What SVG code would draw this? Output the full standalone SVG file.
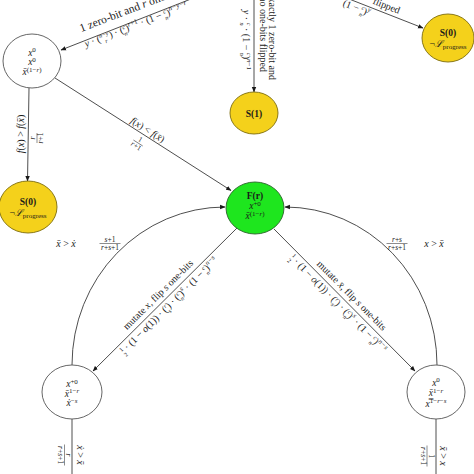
<svg xmlns="http://www.w3.org/2000/svg" width="474" height="474" viewBox="0 0 474 474">
<defs>
<marker id="ah" viewBox="0 0 10 10" refX="9" refY="5" markerWidth="5.5" markerHeight="5.5" markerUnits="userSpaceOnUse" orient="auto"><path d="M0,1 L10,5 L0,9 z" fill="#1a1a1a"/></marker>
<style>
text{font-family:"Liberation Serif","DejaVu Serif",serif;fill:#1a1a1a}
.n{font-size:9.5px}
.l{font-size:10px}
.lb{font-size:11.5px}
.fr{font-size:7.5px}
.i{font-style:italic}
.b{font-weight:bold}
.sp{font-size:7px}
.sf{font-size:6px}
.sb{font-size:7px}
.wh{fill:#fff;stroke:#555;stroke-width:0.9}
.ye{fill:#f4d11b;stroke:#7d6c0c;stroke-width:0.9}
.gr{fill:#1ee61e;stroke:#2d632d;stroke-width:0.9}
.e{fill:none;stroke:#3a3a3a;stroke-width:0.9}
.ea{marker-end:url(#ah)}
.bar{stroke:#1a1a1a;stroke-width:0.5}
</style>
</defs>
<rect width="474" height="474" fill="#fff"/>
<g id="connectors">
<path class="e ea" d="M196,-3 L61,50"/>
<path class="e ea" d="M29,88 L27.5,181"/>
<path class="e ea" d="M55,78 L231,190.5"/>
<path class="e ea" d="M254,-3 L254,92"/>
<path class="e ea" d="M344,-3 L423,28"/>
<path class="e ea" d="M72,365 A153,158 0 0 1 225,207"/>
<path class="e ea" d="M437,365 A152,158 0 0 0 285,207"/>
<path class="e ea" d="M237,228 L93,371"/>
<path class="e ea" d="M274,229 L415,371"/>
<path class="e" d="M72,419 L72,480"/>
<path class="e" d="M436,419 L436,480"/>
<g transform="translate(62,49) rotate(-21)">
<text class="lb" x="24" y="-9">1 zero-bit and <tspan class="i">r</tspan> one-bits flipped</text>
<text class="l" x="23" y="7"><tspan class="i">y</tspan> · (<tspan class="sf i" dy="-3.5">n−y</tspan><tspan class="sf i" dx="-5.7" dy="7">r</tspan><tspan dx="3.4" dy="-3.5">) · (</tspan><tspan class="sf i" dy="-3.5">c</tspan><tspan class="sf i" dx="-2.8" dy="7">n</tspan><tspan dy="-3.5">)</tspan><tspan class="sp" dy="-4"><tspan class="i">r</tspan>+1</tspan><tspan dy="4"> · (1 − </tspan><tspan class="sf i" dy="-3.5">c</tspan><tspan class="sf i" dx="-2.8" dy="7">n</tspan><tspan dy="-3.5">)</tspan><tspan class="sp i" dy="-4">n−y−r</tspan></text>
</g>
<text class="l" transform="translate(24,134) rotate(-90)" text-anchor="middle"><tspan class="i">f</tspan>(<tspan class="i">x</tspan>) &gt; <tspan class="i">f</tspan>(<tspan class="i">x̄</tspan>)</text>
<g transform="translate(37,138) rotate(-90)"><text class="fr i" x="0" y="-1.8" text-anchor="middle">r</text><line class="bar" x1="-5" y1="0" x2="5" y2="0"/><text class="fr" x="0" y="6" text-anchor="middle"><tspan class="i">r</tspan>+1</text></g>
<g transform="translate(55,78) rotate(32.6)">
<text class="l" x="106" y="-3" text-anchor="middle"><tspan class="i">f</tspan>(<tspan class="i">x</tspan>) &lt; <tspan class="i">f</tspan>(<tspan class="i">x̄</tspan>)</text>
<text class="fr" x="105" y="8.2" text-anchor="middle">1</text><line class="bar" x1="99.5" y1="10" x2="110.5" y2="10"/><text class="fr" x="105" y="16" text-anchor="middle"><tspan class="i">r</tspan>+1</text>
</g>
<g transform="translate(254,0) rotate(90)">
<text class="l" x="80" y="-15" text-anchor="end">exactly 1 zero-bit and</text>
<text class="l" x="72" y="-6" text-anchor="end">no one-bits flipped</text>
<text class="l" x="70" y="11" text-anchor="end"><tspan class="i">y</tspan> · <tspan class="sf i" dy="-3.5">c</tspan><tspan class="sf i" dx="-2.8" dy="7">n</tspan><tspan dy="-3.5"> · (1 − </tspan><tspan class="sf i" dy="-3.5">c</tspan><tspan class="sf i" dx="-2.8" dy="7">n</tspan><tspan dy="-3.5">)</tspan><tspan class="sp" dy="-4"><tspan class="i">n</tspan>−1</tspan></text>
</g>
<g transform="translate(423,28) rotate(21.7)">
<text class="l" x="-28" y="-4" text-anchor="end">flipped</text>
<text class="l" x="-55" y="9" text-anchor="end">(1 − <tspan class="sf i" dy="-3.5">c</tspan><tspan class="sf i" dx="-2.8" dy="7">n</tspan><tspan dy="-3.5">)</tspan><tspan class="sp i" dy="-4">y</tspan></text>
</g>
<text class="l" x="66" y="246.5" text-anchor="middle"><tspan class="i">x̄</tspan> &gt; <tspan class="i">ẋ</tspan></text>
<g transform="translate(110,243.5)"><text class="fr" x="0" y="-2" text-anchor="middle"><tspan class="i">s</tspan>+1</text><line class="bar" x1="-10.5" y1="0" x2="10.5" y2="0"/><text class="fr" x="0" y="6.2" text-anchor="middle"><tspan class="i">r</tspan>+<tspan class="i">s</tspan>+1</text></g>
<g transform="translate(397,243.5)"><text class="fr" x="0" y="-2" text-anchor="middle"><tspan class="i">r</tspan>+<tspan class="i">s</tspan></text><line class="bar" x1="-10.5" y1="0" x2="10.5" y2="0"/><text class="fr" x="0" y="6.2" text-anchor="middle"><tspan class="i">r</tspan>+<tspan class="i">s</tspan>+1</text></g>
<text class="l" x="434" y="246.5" text-anchor="middle"><tspan class="i">x</tspan> &gt; <tspan class="i">x̄</tspan></text>
<g transform="translate(93,371) rotate(-44.8)">
<text class="l" x="100" y="-5" text-anchor="middle">mutate <tspan class="i">x</tspan>, flip <tspan class="i">s</tspan> one-bits</text>
<text class="l" x="100" y="10" text-anchor="middle"><tspan class="sf" dy="-3.5">1</tspan><tspan class="sf" dx="-3" dy="7">2</tspan><tspan dy="-3.5"> · (1 − </tspan><tspan class="i">o</tspan>(1)) · (<tspan class="sf i" dy="-3.5">r</tspan><tspan class="sf i" dx="-2.3" dy="7">s</tspan><tspan dy="-3.5">) · (</tspan><tspan class="sf i" dy="-3.5">c</tspan><tspan class="sf i" dx="-2.8" dy="7">n</tspan><tspan dy="-3.5">)</tspan><tspan class="sp i" dy="-4">s</tspan><tspan dy="4"> · (1 − </tspan><tspan class="sf i" dy="-3.5">c</tspan><tspan class="sf i" dx="-2.8" dy="7">n</tspan><tspan dy="-3.5">)</tspan><tspan class="sp i" dy="-4">n−s</tspan></text>
</g>
<g transform="translate(274,229) rotate(45.2)">
<text class="l" x="102" y="-5" text-anchor="middle">mutate <tspan class="i">x̄</tspan>, flip <tspan class="i">s</tspan> one-bits</text>
<text class="l" x="98" y="10" text-anchor="middle"><tspan class="sf" dy="-3.5">1</tspan><tspan class="sf" dx="-3" dy="7">2</tspan><tspan dy="-3.5"> · (1 − </tspan><tspan class="i">o</tspan>(1)) · (<tspan class="sf i" dy="-3.5">r</tspan><tspan class="sf i" dx="-2.3" dy="7">s</tspan><tspan dy="-3.5">) · (</tspan><tspan class="sf i" dy="-3.5">c</tspan><tspan class="sf i" dx="-2.8" dy="7">n</tspan><tspan dy="-3.5">)</tspan><tspan class="sp i" dy="-4">s</tspan><tspan dy="4"> · (1 − </tspan><tspan class="sf i" dy="-3.5">c</tspan><tspan class="sf i" dx="-2.8" dy="7">n</tspan><tspan dy="-3.5">)</tspan><tspan class="sp i" dy="-4">n−s</tspan></text>
</g>
<g transform="translate(64.5,455) rotate(90)"><text class="fr i" x="0" y="-1.8" text-anchor="middle">r</text><line class="bar" x1="-10.5" y1="0" x2="10.5" y2="0"/><text class="fr" x="0" y="6.2" text-anchor="middle"><tspan class="i">r</tspan>+<tspan class="i">s</tspan>+1</text></g>
<text class="l" transform="translate(77,455) rotate(90)" text-anchor="middle"><tspan class="i">ẋ</tspan> &gt; <tspan class="i">x̄</tspan></text>
<g transform="translate(427,456) rotate(90)"><text class="fr" x="0" y="-1.8" text-anchor="middle">1</text><line class="bar" x1="-10.5" y1="0" x2="10.5" y2="0"/><text class="fr" x="0" y="6.2" text-anchor="middle"><tspan class="i">r</tspan>+<tspan class="i">s</tspan>+1</text></g>
<text class="l" transform="translate(440,456) rotate(90)" text-anchor="middle"><tspan class="i">x̄</tspan> &gt; <tspan class="i">x</tspan></text>
</g>
<g id="node_start">
<ellipse class="wh" cx="32" cy="61" rx="29" ry="27"/>
<text class="n" text-anchor="middle"><tspan x="32" y="55.5" class="i">x</tspan><tspan class="sp" dy="-3.5">0</tspan><tspan x="32" y="65" class="i">x</tspan><tspan class="sp" dy="-3.5">0</tspan><tspan x="32" y="75" class="i">x̄</tspan><tspan class="sp" dy="-3.5">(1−<tspan class="i">r</tspan>)</tspan></text>
</g>
<g id="node_S0_left">
<ellipse class="ye" cx="28" cy="207" rx="29" ry="26"/>
<text class="n b" x="28" y="205" text-anchor="middle">S(0)</text>
<text class="n" x="28" y="216" text-anchor="middle">¬<tspan class="i">ℒ</tspan><tspan class="sb" dy="1.5">progress</tspan></text>
</g>
<g id="node_S1">
<ellipse class="ye" cx="254" cy="113" rx="24" ry="21"/>
<text class="n b" x="254" y="116.5" text-anchor="middle">S(1)</text>
</g>
<g id="node_S0_right">
<ellipse class="ye" cx="448" cy="38" rx="26" ry="24"/>
<text class="n b" x="448" y="36" text-anchor="middle">S(0)</text>
<text class="n" x="448" y="47" text-anchor="middle">¬<tspan class="i">ℒ</tspan><tspan class="sb" dy="1.5">progress</tspan></text>
</g>
<g id="node_F">
<ellipse class="gr" cx="255" cy="208" rx="29" ry="26"/>
<text class="n" text-anchor="middle"><tspan x="255" y="199" class="b">F(r)</tspan><tspan x="255" y="209" class="i">x</tspan><tspan class="sp" dy="-3.5">+0</tspan><tspan x="255" y="219" class="i">x̄</tspan><tspan class="sp" dy="-3.5">(1−<tspan class="i">r</tspan>)</tspan></text>
</g>
<g id="node_left">
<ellipse class="wh" cx="72" cy="392" rx="30" ry="27"/>
<text class="n" text-anchor="middle"><tspan x="72" y="387" class="i">x</tspan><tspan class="sp" dy="-3.5">+0</tspan><tspan x="72" y="396.5" class="i">x̄</tspan><tspan class="sp" dy="-3.5">1−<tspan class="i">r</tspan></tspan><tspan x="72" y="406" class="i">ẋ</tspan><tspan class="sp" dy="-3.5">−<tspan class="i">s</tspan></tspan></text>
</g>
<g id="node_right">
<ellipse class="wh" cx="436" cy="392" rx="29" ry="27"/>
<text class="n" text-anchor="middle"><tspan x="436" y="385.5" class="i">x</tspan><tspan class="sp" dy="-3.5">0</tspan><tspan x="436" y="396" class="i">x̄</tspan><tspan class="sp" dy="-3.5">1−<tspan class="i">r</tspan></tspan><tspan x="436" y="406.5" class="i">x̿</tspan><tspan class="sp" dy="-3.5">1−<tspan class="i">r</tspan>−<tspan class="i">s</tspan></tspan></text>
</g>
</svg>
